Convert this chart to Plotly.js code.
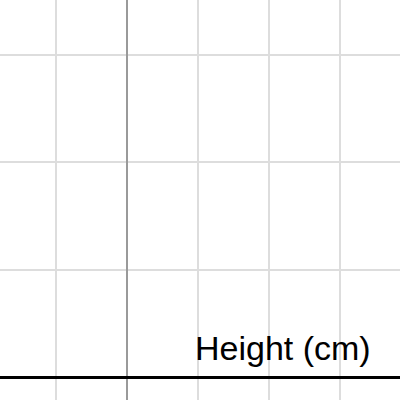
<!DOCTYPE html>
<html>
<head>
<meta charset="utf-8">
<script src="https://cdn.plot.ly/plotly-3.0.1.min.js"></script>
<style>
  html, body { margin: 0; padding: 0; background: #fff; }
  #chart { width: 400px; height: 400px; }
</style>
</head>
<body>
<div id="chart"></div>
<script>
"use strict";

// grid values (no data marks, only the grid)
const xGrid = [-10, 0, 10, 20, 30];
const yGrid = [0, 1, 2, 3];
const xRange = [-17.9, 38.4];
const yRange = [-0.21, 3.51];
const axisTitle = 'Height (cm)';

// an invisible trace so the axes are drawn
const data = [{
  x: xGrid,
  y: xGrid.map(() => null),
  type: 'scatter',
  mode: 'markers',
  hoverinfo: 'skip',
  showlegend: false
}];

const layout = {
  width: 400,
  height: 400,
  margin: {l: 0, r: 0, t: 0, b: 0},
  paper_bgcolor: '#fff',
  plot_bgcolor: '#fff',
  showlegend: false,
  xaxis: {
    range: xRange,
    tickvals: xGrid,
    showticklabels: false,
    ticks: '',
    showgrid: true,
    gridcolor: '#dddddd',
    gridwidth: 2,
    zeroline: true,
    zerolinecolor: '#9a9a9a',
    zerolinewidth: 2,
    showline: false,
    fixedrange: true
  },
  yaxis: {
    range: yRange,
    tickvals: yGrid,
    showticklabels: false,
    ticks: '',
    showgrid: true,
    gridcolor: '#dddddd',
    gridwidth: 2,
    zeroline: true,
    zerolinecolor: '#000',
    zerolinewidth: 3,
    showline: false,
    fixedrange: true
  },
  annotations: [{
    text: axisTitle,
    xref: 'paper',
    yref: 'paper',
    x: 0.9325,
    y: 0.078,
    xanchor: 'right',
    yanchor: 'bottom',
    showarrow: false,
    font: {family: 'Liberation Sans, Arial, sans-serif', size: 34, color: '#000'}
  }]
};

Plotly.newPlot('chart', data, layout, {staticPlot: true, displayModeBar: false});
</script>
</body>
</html>
